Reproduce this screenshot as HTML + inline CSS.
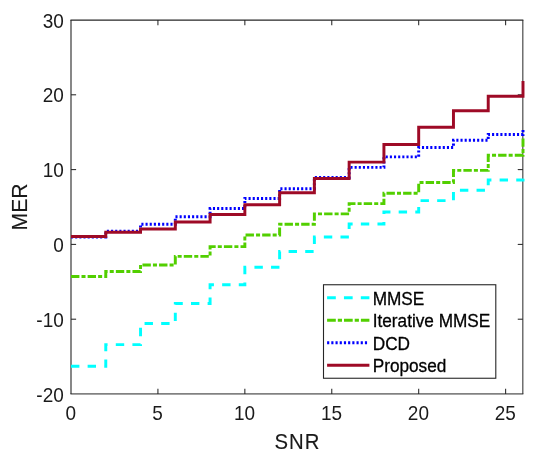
<!DOCTYPE html>
<html><head><meta charset="utf-8"><title>MER vs SNR</title>
<style>
html,body{margin:0;padding:0;background:#fff;}
svg{display:block;}
text{font-family:"Liberation Sans",sans-serif;fill:#1a1a1a;stroke:#1a1a1a;stroke-width:0.12px;}
.tk text{stroke:none;}
.leg text{fill:#000;stroke:#000;stroke-width:0.28px;}
</style></head><body>
<svg width="550" height="460" viewBox="0 0 550 460">
<rect x="0" y="0" width="550" height="460" fill="#ffffff"/>
<defs><clipPath id="ax"><rect x="70.0" y="19.0" width="455.0" height="376.0"/></clipPath></defs>

<g stroke="#262626" fill="none">
<line x1="70.45" y1="20.1" x2="523.35" y2="20.1" stroke-width="1.3"/>
<line x1="70.45" y1="393.93" x2="523.35" y2="393.93" stroke-width="1.0"/>
<line x1="71.0" y1="20.1" x2="71.0" y2="393.93" stroke-width="1.1"/>
<line x1="522.85" y1="20.1" x2="522.85" y2="393.93" stroke-width="1.0"/>
</g>
<g stroke="#262626" stroke-width="1.05" fill="none">
<line x1="157.92" y1="393.93" x2="157.92" y2="388.83"/>
<line x1="157.92" y1="20.1" x2="157.92" y2="25.200000000000003"/>
<line x1="244.85" y1="393.93" x2="244.85" y2="388.83"/>
<line x1="244.85" y1="20.1" x2="244.85" y2="25.200000000000003"/>
<line x1="331.77" y1="393.93" x2="331.77" y2="388.83"/>
<line x1="331.77" y1="20.1" x2="331.77" y2="25.200000000000003"/>
<line x1="418.69" y1="393.93" x2="418.69" y2="388.83"/>
<line x1="418.69" y1="20.1" x2="418.69" y2="25.200000000000003"/>
<line x1="505.62" y1="393.93" x2="505.62" y2="388.83"/>
<line x1="505.62" y1="20.1" x2="505.62" y2="25.200000000000003"/>
<line x1="71.0" y1="319.20" x2="76.1" y2="319.20"/>
<line x1="522.85" y1="319.20" x2="517.75" y2="319.20"/>
<line x1="71.0" y1="244.40" x2="76.1" y2="244.40"/>
<line x1="522.85" y1="244.40" x2="517.75" y2="244.40"/>
<line x1="71.0" y1="169.60" x2="76.1" y2="169.60"/>
<line x1="522.85" y1="169.60" x2="517.75" y2="169.60"/>
<line x1="71.0" y1="94.80" x2="76.1" y2="94.80"/>
<line x1="522.85" y1="94.80" x2="517.75" y2="94.80"/>
</g>
<g clip-path="url(#ax)" fill="none" stroke-linejoin="miter">
<path d="M71.00,366.32 L105.77,366.32 L105.77,344.63 L140.54,344.63 L140.54,323.54 L175.31,323.54 L175.31,303.49 L210.08,303.49 L210.08,284.79 L244.85,284.79 L244.85,267.21 L279.62,267.21 L279.62,251.51 L314.38,251.51 L314.38,236.92 L349.15,236.92 L349.15,224.05 L383.92,224.05 L383.92,212.01 L418.69,212.01 L418.69,200.64 L453.46,200.64 L453.46,190.17 L488.23,190.17 L488.23,180.00 L523.00,180.00 L523.00,178.73" stroke="#00ffff" stroke-width="2.95" stroke-dasharray="8.4 8.22"/>
<path d="M71.00,276.56 L105.77,276.56 L105.77,271.55 L140.54,271.55 L140.54,264.90 L175.31,264.90 L175.31,256.37 L210.08,256.37 L210.08,246.64 L244.85,246.64 L244.85,235.05 L279.62,235.05 L279.62,224.20 L314.38,224.20 L314.38,213.88 L349.15,213.88 L349.15,203.63 L383.92,203.63 L383.92,193.16 L418.69,193.16 L418.69,182.47 L453.46,182.47 L453.46,170.35 L488.23,170.35 L488.23,155.24 L523.00,155.24 L523.00,138.18" stroke="#52cf00" stroke-width="2.95" stroke-dasharray="8.4 2.1 4.02 2.1"/>
<path d="M71.00,236.92 L105.77,236.92 L105.77,231.24 L140.54,231.24 L140.54,224.20 L175.31,224.20 L175.31,216.72 L210.08,216.72 L210.08,208.50 L244.85,208.50 L244.85,198.40 L279.62,198.40 L279.62,188.67 L314.38,188.67 L314.38,177.45 L349.15,177.45 L349.15,167.36 L383.92,167.36 L383.92,156.88 L418.69,156.88 L418.69,147.46 L453.46,147.46 L453.46,140.28 L488.23,140.28 L488.23,134.44 L523.00,134.44 L523.00,130.11" stroke="#0000ff" stroke-width="2.95" stroke-dasharray="2.1 2.055"/>
<path d="M71.00,236.40 L105.77,236.40 L105.77,232.28 L140.54,232.28 L140.54,228.92 L175.31,228.92 L175.31,221.96 L210.08,221.96 L210.08,214.48 L244.85,214.48 L244.85,204.76 L279.62,204.76 L279.62,192.79 L314.38,192.79 L314.38,178.58 L349.15,178.58 L349.15,162.12 L383.92,162.12 L383.92,144.54 L418.69,144.54 L418.69,127.26 L453.46,127.26 L453.46,110.81 L488.23,110.81 L488.23,96.30 L523.00,96.30 L523.00,80.96" stroke="#9e0a26" stroke-width="2.95"/>
</g>
<g class="tk" font-size="20.2">
<text transform="translate(70.70,420.45) scale(0.94,1)" text-anchor="middle">0</text>
<text transform="translate(157.62,420.45) scale(0.94,1)" text-anchor="middle">5</text>
<text transform="translate(244.55,420.45) scale(0.94,1)" text-anchor="middle">10</text>
<text transform="translate(331.47,420.45) scale(0.94,1)" text-anchor="middle">15</text>
<text transform="translate(418.39,420.45) scale(0.94,1)" text-anchor="middle">20</text>
<text transform="translate(505.32,420.45) scale(0.94,1)" text-anchor="middle">25</text>
<text transform="translate(63.8,401.50) scale(0.94,1)" text-anchor="end">-20</text>
<text transform="translate(63.8,326.70) scale(0.94,1)" text-anchor="end">-10</text>
<text transform="translate(63.8,251.90) scale(0.94,1)" text-anchor="end">0</text>
<text transform="translate(63.8,177.10) scale(0.94,1)" text-anchor="end">10</text>
<text transform="translate(63.8,102.30) scale(0.94,1)" text-anchor="end">20</text>
<text transform="translate(63.8,27.50) scale(0.94,1)" text-anchor="end">30</text>
</g>
<text transform="translate(297.40,448.9) scale(0.95,1.062)" font-size="21.4" letter-spacing="1.1" text-anchor="middle">SNR</text>
<text transform="translate(26.9,207.0) rotate(-90) scale(0.985,1.065)" font-size="21.4" text-anchor="middle">MER</text>
<g class="leg">
<rect x="323.5" y="284.75" width="172.3" height="93.5" fill="#fff" stroke="#262626" stroke-width="1.1"/>
<line x1="327.1" y1="297.75" x2="369.4" y2="297.75" stroke="#00ffff" stroke-width="2.95" stroke-dasharray="8.7 8.15"/>
<text transform="translate(372.7,304.95) scale(0.992,1.05)" font-size="17.35">MMSE</text>
<line x1="327.1" y1="320.25" x2="369.4" y2="320.25" stroke="#52cf00" stroke-width="2.95" stroke-dasharray="8.7 2 4.2 2"/>
<text transform="translate(372.7,327.45) scale(0.992,1.05)" font-size="17.35">Iterative MMSE</text>
<line x1="327.1" y1="342.75" x2="367.2" y2="342.75" stroke="#0000ff" stroke-width="2.95" stroke-dasharray="2.15 2.05"/>
<text transform="translate(372.7,349.95) scale(0.992,1.05)" font-size="17.35">DCD</text>
<line x1="327.1" y1="365.25" x2="369.4" y2="365.25" stroke="#9e0a26" stroke-width="2.95"/>
<text transform="translate(372.7,372.45) scale(0.992,1.05)" font-size="17.35">Proposed</text>
</g>
</svg></body></html>
